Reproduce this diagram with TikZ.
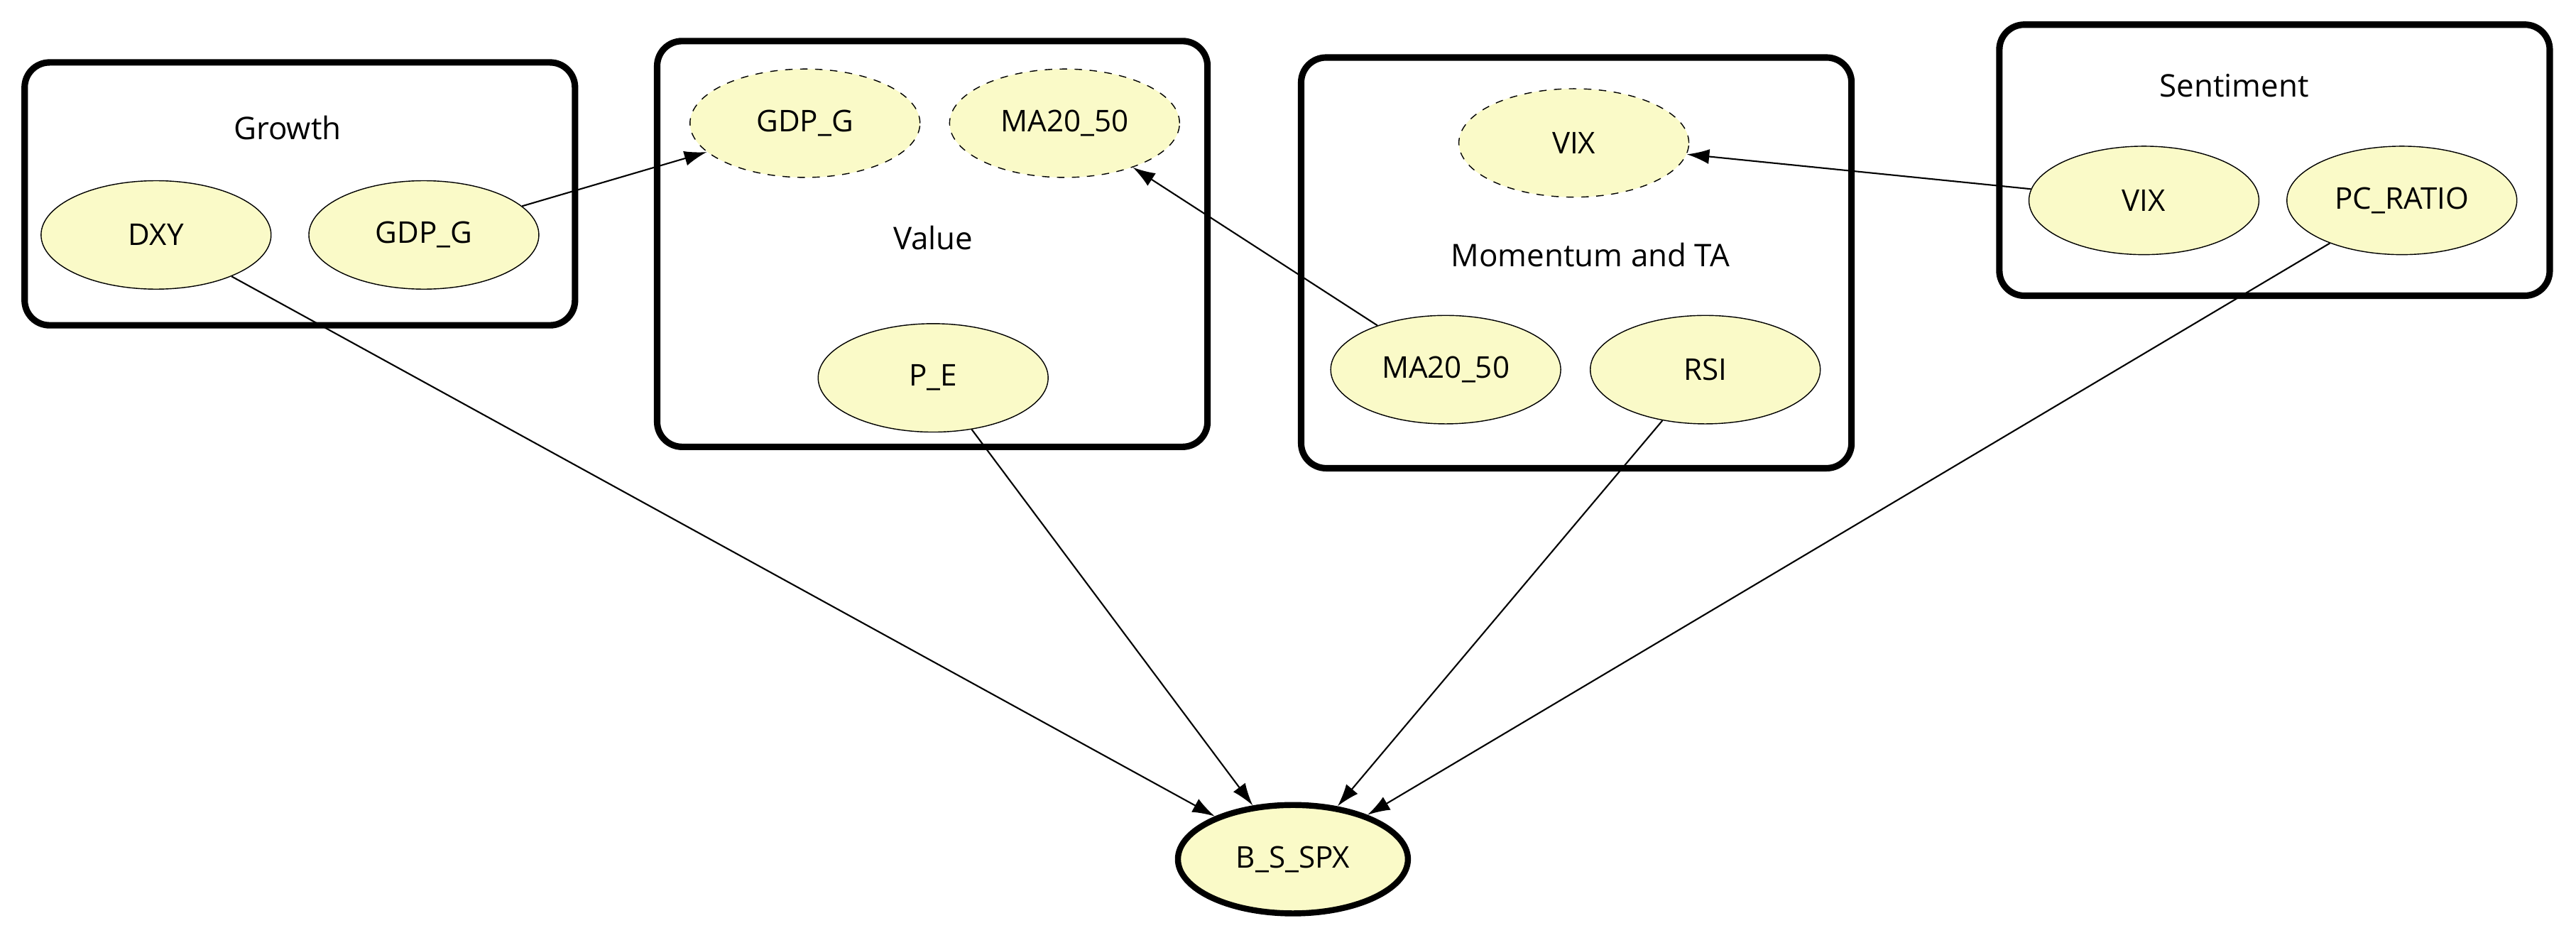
\documentclass[tikz,border=0pt]{standalone}
\usepackage{fontspec}
\setmainfont{Open Sans}
\usetikzlibrary{arrows.meta,shapes.geometric}
\definecolor{nodefill}{RGB}{250,250,200}
\newcommand{\unitpx}{0.02314cm}
\tikzset{
  var/.style={ellipse,draw,fill=nodefill,minimum width=140*\unitpx,minimum height=66*\unitpx,inner sep=0pt,font=\fontsize{12}{14}\selectfont},
  ghost/.style={var,dashed},
  target/.style={var,line width=2.4pt},
  plate/.style={draw,line width=2.6pt,rounded corners=10pt},
  lbl/.style={font=\fontsize{12.5}{15}\selectfont},
  link/.style={-{Latex[length=9pt,width=6pt]},semithick}
}
\begin{document}
\begin{tikzpicture}[x=0.02314cm,y=-0.02314cm]
  \useasboundingbox (0,0) rectangle (1568,578);
  % plates
  \draw[plate] (15,38) rectangle (350,198);
  \draw[plate] (400,25) rectangle (735,272);
  \draw[plate] (792,35) rectangle (1127,285);
  \draw[plate] (1217,15) rectangle (1552,180);
  \node[lbl] (growth) at (175,78) {Growth};
  \node[lbl] (value) at (568,145) {Value};
  \node[lbl] (mom) at (968,155) {Momentum and TA};
  \node[lbl] (sent) at (1360,52) {Sentiment};
  % variables
  \node[var] (dxy) at (95,143) {DXY};
  \node[var] (gdpg) at (258,143) {GDP\_G};
  \node[ghost] (gdpgv) at (490,75) {GDP\_G};
  \node[ghost] (mav) at (648,75) {MA20\_50};
  \node[var] (pe) at (568,230) {P\_E};
  \node[ghost] (vixm) at (958,87) {VIX};
  \node[var] (ma) at (880,225) {MA20\_50};
  \node[var] (rsi) at (1038,225) {RSI};
  \node[var] (vix) at (1305,122) {VIX};
  \node[var] (pcr) at (1462,122) {PC\_RATIO};
  \node[target] (spx) at (787,523) {B\_S\_SPX};
  % links
  \draw[link] (gdpg) -- (gdpgv);
  \draw[link] (ma) -- (mav);
  \draw[link] (vix) -- (vixm);
  \draw[link] (dxy) -- (spx);
  \draw[link] (pe) -- (spx);
  \draw[link] (rsi) -- (spx);
  \draw[link] (pcr) -- (spx);
\end{tikzpicture}
\end{document}
